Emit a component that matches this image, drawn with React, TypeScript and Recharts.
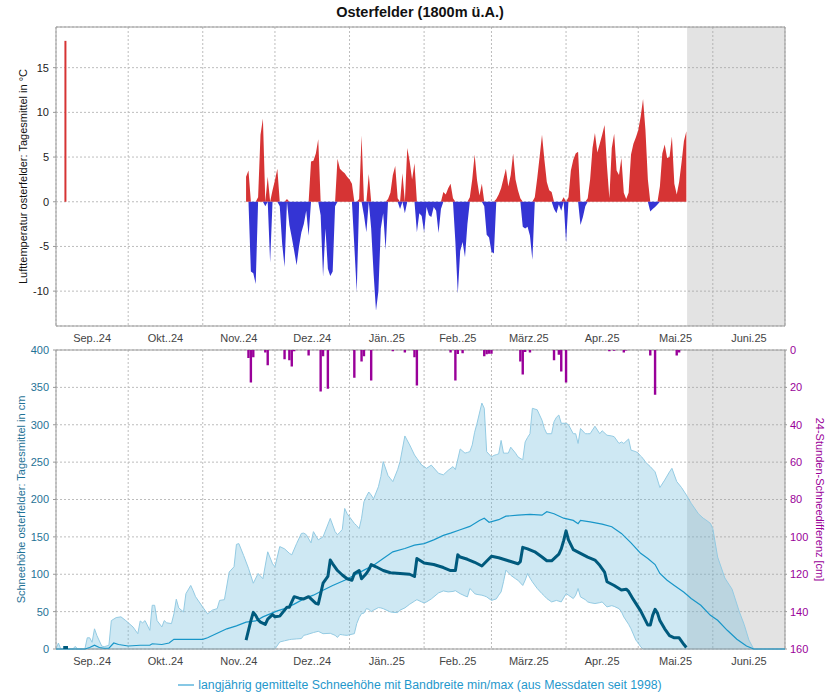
import React from "react";
import {
  ComposedChart,
  Area,
  Bar,
  Line,
  XAxis,
  YAxis,
  CartesianGrid,
  ReferenceArea,
} from "recharts";

// day index 0 = 1 Sep 2024, axis runs to 30 Jun 2025
const monthStarts = [0, 30, 61, 91, 122, 153, 181, 212, 242, 273, 303];
const monthLabels = ["Sep..24", "Okt..24", "Nov..24", "Dez..24", "Jän..25", "Feb..25", "März.25", "Apr..25", "Mai.25", "Juni.25"];
const forecastStart = 262.3;

// air temperature, daily mean in °C
const tempSingleDays = [4];
const tempSingleValues = [18];
const tempFirstDay = 79;
const tempValues = [
  2.8, 3.5, -7.8, -8.0, -9.2, 0.5, 7.5, 9.3, -0.5, 2.8,
  -6.8, 1.3, 2.4, 3.7, -0.5, -4.7, -7.3, 0.3, -2.6, -4.0,
  -5.5, -7.1, -5.0, -3.4, -2.5, -1.0, -3.8, 4.5, 4.6, 5.4,
  7.0, -1.5, -8.4, -3.0, -7.5, -8.3, -7.8, -0.5, 4.8, 3.7,
  3.4, 3.2, 2.8, 2.5, 2.0, -5.0, -10.1, 0.3, 7.4, -1.5,
  -3.4, 3.1, -3.0, -8.0, -12.2, -10.0, -3.0, -1.3, -5.4, 0.3,
  1.0, 3.0, 4.0, 0.4, -0.8, 3.2, -1.3, 6.0, 4.5, 2.5,
  4.3, -3.4, -1.3, -1.6, -3.4, -0.6, -1.5, -1.7, -0.6, -1.0,
  -3.5, -0.8, 1.1, 0.8, 1.5, 2.0, 0.4, -4.5, -10.3, -5.5,
  -4.5, -6.2, -2.5, 0.5, 2.5, 5.3, 2.4, 0.7, 2.0, -0.5,
  -3.7, -4.0, -5.6, -5.8, 0.3, 0.8, 1.5, 2.6, 3.7, 1.7,
  3.0, 5.4, 2.5, 1.3, 0.4, -2.8, -3.0, -2.8, -3.8, -6.5,
  0.5, 2.6, 5.0, 7.5, 4.7, 2.2, 1.3, 1.1, -0.8, -1.3,
  -0.3, -1.0, 0.5, -4.6, 0.5, 3.5, 4.7, 5.4, 5.6, -2.6,
  -1.7, -0.5, 0.4, 2.5, 6.0, 7.7, 5.5, 6.5, 7.5, 8.6,
  4.0, 0.4, 6.0, 7.6, 3.5, 3.0, 4.9, 1.0, 0.3, 1.0,
  5.3, 6.5, 7.2, 8.0, 9.5, 11.5, 8.0, 2.5, -1.1, -0.8,
  -0.6, -0.3, 1.7, 5.4, 6.4, 4.9, 5.0, 7.3, 2.0, 0.8,
  2.2, 4.4, 6.8, 7.9,
];

// 24 h snow difference in cm
const diffDays = [80, 81, 82, 87, 88, 95, 97, 98, 99, 105, 110, 111, 113, 124, 127, 128, 131, 140, 145, 149, 150, 164, 166, 167, 169, 178, 179, 180, 181, 193, 194, 195, 197, 207, 209, 210, 212, 230, 232, 236, 237, 247, 249, 258, 259];
const diffValues = [4.3, 17.4, 3.9, 1.3, 8.2, 5.0, 5.5, 8.8, 0.7, 2.9, 22.2, 3.4, 20.8, 14.9, 6.1, 3.4, 16.3, 0.7, 1.3, 3.9, 19.0, 1.3, 16.3, 2.2, 1.7, 3.4, 2.3, 2.0, 2.0, 6.1, 13.1, 1.1, 1.3, 5.5, 2.5, 11.5, 17.4, 0.7, 0.4, 1.3, 0.3, 2.9, 24.0, 2.9, 1.3];

// current snow depth, daily mean in cm
const snowEarlyDays = [3, 4, 5];
const snowEarlyValues = [2, 2, 2];
const snowDays = [
  79, 80, 81, 82, 83, 84, 85, 87, 88, 90,
  91, 93, 95, 96, 97, 99, 101, 103, 105, 108,
  109, 110, 111, 113, 114, 115, 117, 119, 121, 123,
  124, 126, 127, 129, 130, 131, 133, 136, 139, 143,
  147, 149, 150, 151, 153, 157, 161, 164, 166, 167,
  168, 171, 174, 177, 181, 184, 188, 192, 193, 194,
  196, 199, 202, 204, 206, 208, 209, 210, 211, 212,
  213, 215, 218, 221, 224, 226, 228, 229, 232, 235,
  237, 238, 240, 243, 246, 247, 248, 249, 250, 251,
  253, 255, 257, 259, 261, 262,
];
const snowValues = [
  12, 25, 38, 49, 45, 39, 36, 33, 40, 46,
  43, 44, 52, 56, 56, 70, 68, 67, 70, 61,
  60, 74, 88, 97, 119, 114, 105, 99, 94, 92,
  101, 105, 94, 101, 106, 113, 110, 105, 102, 101,
  100, 97, 121, 119, 115, 113, 109, 105, 105, 126,
  123, 120, 116, 111, 124, 122, 118, 114, 117, 136,
  134, 130, 123, 118, 118, 124, 127, 134, 145, 158,
  146, 133, 128, 123, 119, 112, 103, 90, 85, 79,
  80, 77, 66, 51, 32, 32, 45, 53, 48, 38,
  27, 18, 15, 15, 6, 2,
];

// long-term mean snow depth
const meanDays = [
  0, 12, 14, 16, 18, 20, 22, 24, 26, 28,
  30, 35, 39, 40, 44, 47, 49, 55, 61, 63,
  67, 71, 75, 79, 83, 86, 89, 92, 95, 99,
  103, 107, 111, 115, 120, 124, 128, 132, 136, 140,
  145, 149, 153, 157, 161, 164, 168, 172, 176, 178,
  180, 184, 187, 192, 197, 202, 204, 207, 211, 215,
  217, 218, 222, 227, 231, 235, 239, 243, 246, 249,
  251, 254, 257, 261, 264, 268, 272, 275, 279, 283,
  287, 290, 303,
];
const meanValues = [
  0, 0, 2, 5, 2, 1, 1, 8, 6, 5,
  4, 5, 5, 7, 6, 8, 13, 13, 13, 15,
  21, 27, 31, 36, 37.5, 43, 47, 51, 54, 60,
  67, 72, 78.6, 85, 92, 98.7, 105.5, 112, 121, 130,
  134.5, 139, 141, 146, 152, 155, 159.6, 164, 172, 175,
  169.5, 173, 177.7, 179, 180, 179, 183.6, 181, 175, 172,
  167.7, 172, 170, 167, 163.5, 154.6, 142, 128, 121, 113,
  101, 92, 85, 76, 67.5, 58.5, 45, 38.4, 25, 13,
  4, 0, 0,
];

// long-term min / max band
const bandDays = [
  0, 1, 2, 7, 8, 9, 12, 13, 14, 15, 16, 17, 19, 20, 22, 23, 25, 27, 29, 32,
  34, 35, 36, 37, 39, 40, 41, 42, 44, 45, 46, 48, 49, 50, 51, 53, 54, 56, 57, 58,
  61, 63, 65, 67, 68, 70, 72, 74, 75, 76, 78, 80, 82, 84, 86, 88, 90, 91, 93, 95,
  97, 98, 100, 102, 103, 104, 106, 107, 109, 111, 114, 116, 117, 118, 119, 120, 121, 124, 125, 126,
  127, 128, 129, 130, 131, 132, 134, 135, 136, 138, 139, 140, 142, 143, 145, 147, 149, 150, 152, 153,
  154, 156, 159, 161, 163, 165, 166, 168, 170, 171, 172, 173, 174, 175, 177, 178, 179, 181, 182, 183,
  184, 185, 186, 187, 188, 189, 191, 192, 194, 195, 196, 197, 198, 200, 202, 203, 204, 206, 207, 208,
  209, 210, 212, 213, 215, 216, 217, 218, 220, 221, 222, 224, 226, 227, 229, 231, 232, 234, 235, 236,
  238, 239, 241, 242, 243, 244, 245, 247, 249, 251, 253, 255, 256, 258, 260, 262, 264, 267, 269, 270,
  272, 273, 275, 278, 281, 284, 286, 288, 290, 303,
];
const bandLow = [
  0, 0, 0, 0, 0, 0, 0, 0, 0, 0, 0, 0, 0, 0, 0, 0, 0, 0, 0, 0,
  0, 0, 0, 0, 0, 0, 0, 0, 0, 0, 0, 0, 0, 0, 0, 0, 0, 0, 0, 0,
  0, 0, 0, 0, 0, 0, 0, 0, 0, 0, 0, 0, 0, 0, 0, 0, 0, 0, 9.4, 11,
  12.5, 13, 13.5, 14, 18.3, 19, 21, 22, 23.7, 20.5, 21, 18.3, 15.5, 19.5, 19, 18.5, 18.3, 20.5, 34, 42,
  47.4, 48, 54, 53, 50, 52, 55.4, 55, 54, 51, 49.6, 49, 48.7, 52, 55, 59.9, 64, 66, 63, 61.7,
  63, 67, 75, 77.7, 76.4, 77, 78, 74, 71, 69.7, 80.9, 78, 74, 73, 72, 71, 69.7, 65, 66, 67,
  72, 76.4, 90, 105.5, 102, 98.7, 94, 92, 85, 92, 101, 95, 89.8, 81, 74, 71, 67.5, 63, 64, 65,
  64, 63, 74, 72, 67.5, 72, 80.9, 69.7, 66, 63, 62, 60.8, 62, 63, 56.3, 58, 57, 54, 50, 42.9,
  33, 27, 12, 8, 3, 0, 0, 0, 0, 0, 0, 0, 0, 0, 0, 0, 0, 0, 0, 0,
  0, 0, 0, 0, 0, 0, 0, 0, 0, 0,
];
const bandHigh = [
  0, 8, 0, 0, 3.5, 0, 0, 15, 15, 9, 27, 18, 4, 3, 5, 38, 42, 43, 38, 29.5,
  20.5, 37.5, 35, 38, 25, 58.5, 58.5, 38, 29.5, 38, 35, 34, 47, 66.6, 55, 49.6, 74, 85, 78, 70,
  56, 47, 52, 54, 65, 66, 103, 110, 140, 141, 125, 108, 88, 101, 94, 130, 114, 110, 137, 134,
  128, 126, 141, 154.6, 155, 153, 142, 157, 146, 150, 174.7, 157, 153, 156, 160, 188, 181, 168, 165, 161,
  175, 197, 204, 210, 206, 201, 217, 230.6, 250.7, 232, 228, 223.9, 240, 250.7, 285, 273, 259.6, 255, 246, 244,
  241.7, 246, 235, 233, 239, 244, 240, 267.6, 262, 263, 264, 273, 290, 302, 329, 322, 264, 257, 259, 260,
  261, 279, 262, 262, 262, 270, 262, 257, 253, 277, 283, 288, 322, 320, 306, 295, 288, 288, 304, 310,
  313, 302, 302, 300, 288, 288, 275, 295, 288, 288, 288, 298, 288, 292, 286, 285, 284, 275, 277, 275,
  281, 266, 264, 262, 258, 255, 250, 244, 237, 216, 226, 237, 241.7, 224, 216, 206, 195, 181, 175, 173,
  168, 161, 123, 95, 80, 50, 33, 12, 0, 0,
];

const tempTicks = [-10, -5, 0, 5, 10, 15];
const tempDomain = [-13.9, 19.55];
const snowTicks = [0, 50, 100, 150, 200, 250, 300, 350, 400];
const snowMinorTicks = Array.from({ length: 41 }, (_, i) => i * 10);
const diffTicks = [0, 20, 40, 60, 80, 100, 120, 140, 160];

const monthMids = monthLabels.map((_, i) => (monthStarts[i] + monthStarts[i + 1]) / 2);
const labelAt = (v: number) => monthLabels[monthMids.indexOf(v)] ?? "";

const tempRows = [
  ...tempSingleDays.map((d, i) => ({ d, lone: tempSingleValues[i] })),
  ...tempValues.map((t, i) => ({ d: tempFirstDay + i, warm: Math.max(t, 0), cold: Math.min(t, 0) })),
];
const diffRows = diffDays.map((d, i) => ({ d, diff: diffValues[i] }));
const snowRows = snowDays.map((d, i) => ({ d, v: snowValues[i] }));
const snowEarlyRows = snowEarlyDays.map((d, i) => ({ d, v: snowEarlyValues[i] }));
const meanRows = meanDays.map((d, i) => ({ d, v: meanValues[i] }));
const bandRows = bandDays.map((d, i) => ({ d, range: [bandLow[i], bandHigh[i]] }));

const FONT = '"Liberation Sans", Arial, Helvetica, sans-serif';
const GRID = "#bdbdbd";
const FRAME = "#9a9a9a";
const TEAL = "#1f7296";
const PURPLE = "#990099";

// rotated axis title centred on the plot height
const axisTitle = (text: string, color: string, cx: number, angle: number) => (props: any) => {
  const vb = props.viewBox || {};
  const x = (vb.x ?? 0) + cx;
  const y = (vb.y ?? 0) + (vb.height ?? 0) / 2;
  return (
    <text
      x={x}
      y={y}
      transform={`rotate(${angle} ${x} ${y})`}
      textAnchor="middle"
      dominantBaseline="central"
      fontSize={11}
      fill={color}
    >
      {text}
    </text>
  );
};

const xCommon = {
  type: "number" as const,
  dataKey: "d",
  domain: [0, 303],
  allowDataOverflow: true,
};

// month boundaries carry the grid and the small tick marks, month middles carry the labels
function monthAxes() {
  return [
    <XAxis
      key="grid"
      {...xCommon}
      xAxisId="grid"
      ticks={monthStarts}
      interval={0}
      tickFormatter={() => ""}
      axisLine={false}
      tickLine={{ stroke: FRAME }}
      tickSize={2}
      height={0}
    />,
    <XAxis
      key="m"
      {...xCommon}
      xAxisId="m"
      ticks={monthMids}
      interval={0}
      tickFormatter={labelAt}
      tickLine={false}
      axisLine={false}
      height={20}
      tick={{ fontSize: 11, fill: "#444" }}
    />,
  ];
}

export default function App() {
  return (
    <div style={{ position: "absolute", left: 0, top: 0, width: 840, height: 700, background: "#fff", fontFamily: FONT }}>
      <div
        style={{
          position: "absolute",
          top: 3,
          left: 0,
          width: 840,
          textAlign: "center",
          fontSize: 14.5,
          lineHeight: "18px",
          fontWeight: "bold",
          color: "#111",
        }}
      >
        Osterfelder (1800m ü.A.)
      </div>

      <div style={{ position: "absolute", left: 0, top: 0 }}>
        <ComposedChart width={840} height={346} data={tempRows} margin={{ top: 27, right: 55, bottom: 0, left: 0 }}>
          {monthAxes()}
          <YAxis
            yAxisId="t"
            type="number"
            domain={tempDomain}
            allowDataOverflow
            ticks={tempTicks}
            width={56}
            axisLine={false}
            tickLine={{ stroke: FRAME }}
            tickSize={3}
            tickMargin={4}
            tick={{ fontSize: 11, fill: "#222" }}
            label={axisTitle("Lufttemperatur osterfelder: Tagesmittel in °C", "#111", 22.5, -90)}
          />
          <CartesianGrid xAxisId="grid" yAxisId="t" stroke={GRID} strokeDasharray="2 2" />
          <ReferenceArea xAxisId="m" yAxisId="t" x1={forecastStart} x2={303} fill="#999" fillOpacity={0.28} stroke="none" />
          <Area xAxisId="m" yAxisId="t" type="linear" dataKey="warm" baseValue={0} stroke="none" fill="#d63434" fillOpacity={1} isAnimationActive={false} />
          <Area xAxisId="m" yAxisId="t" type="linear" dataKey="cold" baseValue={0} stroke="none" fill="#3434d4" fillOpacity={1} isAnimationActive={false} />
          <Bar xAxisId="m" yAxisId="t" dataKey="lone" fill="#d63434" barSize={2} isAnimationActive={false} />
          <ReferenceArea xAxisId="m" yAxisId="t" x1={0} x2={303} y1={tempDomain[0]} y2={tempDomain[1]} fill="none" stroke={FRAME} />
        </ComposedChart>
      </div>

      <div style={{ position: "absolute", left: 0, top: 340 }}>
        <ComposedChart width={840} height={330} data={diffRows} margin={{ top: 10, right: 0, bottom: 1, left: 0 }}>
          {monthAxes()}
          {/* minor ticks every 10 cm, sitting right on the plot edge */}
          <YAxis
            yAxisId="snowMinor"
            type="number"
            domain={[0, 400]}
            ticks={snowMinorTicks}
            interval={0}
            width={0}
            tickFormatter={() => ""}
            axisLine={false}
            tickLine={{ stroke: FRAME }}
            tickSize={2}
          />
          <YAxis
            yAxisId="snow"
            type="number"
            domain={[0, 400]}
            ticks={snowTicks}
            width={56}
            axisLine={false}
            tickLine={{ stroke: FRAME }}
            tickSize={3}
            tickMargin={4}
            tick={{ fontSize: 11, fill: TEAL }}
            label={axisTitle("Schneehöhe osterfelder: Tagesmittel in cm", TEAL, 20.5, -90)}
          />
          <YAxis
            yAxisId="diff"
            orientation="right"
            type="number"
            domain={[0, 160]}
            reversed
            ticks={diffTicks}
            width={55}
            axisLine={false}
            tickLine={{ stroke: FRAME }}
            tickSize={2}
            tickMargin={3}
            tick={{ fontSize: 11, fill: PURPLE }}
            label={axisTitle("24-Stunden-Schneedifferenz [cm]", PURPLE, 34.5, 90)}
          />
          <CartesianGrid xAxisId="grid" yAxisId="snow" stroke={GRID} strokeDasharray="2 2" />
          <ReferenceArea xAxisId="m" yAxisId="snow" x1={forecastStart} x2={303} fill="#999" fillOpacity={0.28} stroke="none" />
          <Area
            xAxisId="m"
            yAxisId="snow"
            data={bandRows}
            type="linear"
            dataKey="range"
            stroke="#94cbe3"
            strokeWidth={1}
            fill="#6ab8dc"
            fillOpacity={0.33}
            isAnimationActive={false}
          />
          <Bar xAxisId="m" yAxisId="diff" dataKey="diff" fill={PURPLE} barSize={2.4} isAnimationActive={false} />
          <Line xAxisId="m" yAxisId="snow" data={meanRows} type="linear" dataKey="v" stroke="#1896c8" strokeWidth={1.2} dot={false} isAnimationActive={false} />
          <Line xAxisId="m" yAxisId="snow" data={snowEarlyRows} type="linear" dataKey="v" stroke="#005a7d" strokeWidth={3} dot={false} isAnimationActive={false} />
          <Line
            xAxisId="m"
            yAxisId="snow"
            data={snowRows}
            type="linear"
            dataKey="v"
            stroke="#005a7d"
            strokeWidth={3}
            strokeLinejoin="round"
            dot={false}
            isAnimationActive={false}
          />
          <ReferenceArea xAxisId="m" yAxisId="snow" x1={0} x2={303} y1={0} y2={400} fill="none" stroke={FRAME} />
        </ComposedChart>
      </div>

      <div
        style={{
          position: "absolute",
          left: 0,
          top: 678,
          width: 840,
          display: "flex",
          justifyContent: "center",
          alignItems: "center",
          fontSize: 12.3,
          color: "#1f98cc",
        }}
      >
        <svg width={20} height={10}>
          <line x1={0} y1={5} x2={16} y2={5} stroke="#5fb6dc" strokeWidth={1.5} />
        </svg>
        <span>langjährig gemittelte Schneehöhe mit Bandbreite min/max (aus Messdaten seit 1998)</span>
      </div>
    </div>
  );
}
